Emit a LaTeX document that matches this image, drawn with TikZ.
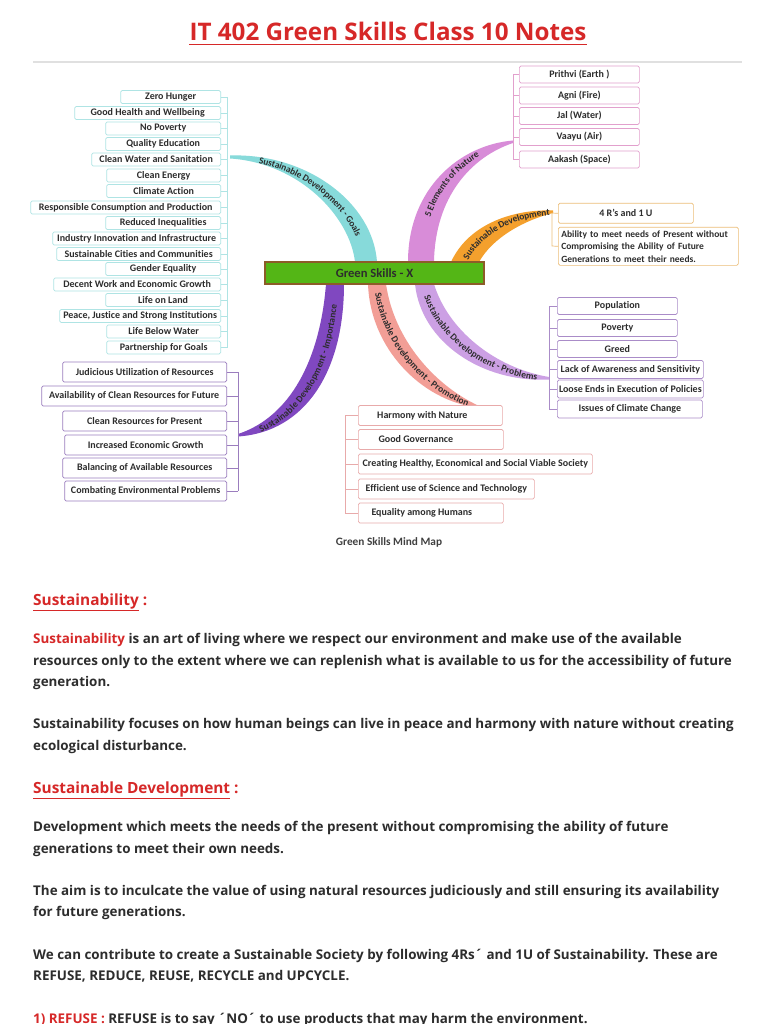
\documentclass[tikz,border=0pt]{standalone}
\usepackage{fontspec}
\setmainfont{Carlito}[Ligatures=NoCommon]
\newfontfamily\titlefont{Open Sans}
\usetikzlibrary{decorations.text}
\definecolor{redt}{RGB}{214,40,40}
\definecolor{bodyc}{RGB}{45,45,45}
\definecolor{goalc}{RGB}{175,228,228}
\definecolor{goalrib}{RGB}{135,218,218}
\definecolor{elemc}{RGB}{226,160,205}
\definecolor{elemrib}{RGB}{216,140,216}
\definecolor{orgc}{RGB}{236,190,120}
\definecolor{orgrib}{RGB}{244,160,45}
\definecolor{probc}{RGB}{170,140,200}
\definecolor{probrib}{RGB}{204,160,228}
\definecolor{promc}{RGB}{232,170,170}
\definecolor{promrib}{RGB}{242,158,150}
\definecolor{impc}{RGB}{155,125,190}
\definecolor{imprib}{RGB}{128,72,192}
\definecolor{centerfill}{RGB}{84,182,22}
\definecolor{centerdraw}{RGB}{140,92,40}
\begin{document}
\begin{tikzpicture}[x=1pt,y=-1pt,
  every node/.style={text=bodyc},
  box/.style={draw, rounded corners=1.5pt, line width=0.7pt, fill=white, inner sep=0pt,
    font=\fontsize{10}{11}\selectfont\bfseries},
  gbox/.style={box, draw=goalc, minimum height=13, anchor=east},
  ebox/.style={box, draw=elemc, minimum height=17, minimum width=120, anchor=west},
  obox/.style={box, draw=orgc, anchor=north west},
  pbox/.style={box, draw=probc, minimum height=17, anchor=west},
  rbox/.style={box, draw=promc, minimum height=20, anchor=west},
  ibox/.style={box, draw=impc, minimum height=20, anchor=east},
  gline/.style={draw=goalc, line width=0.7pt},
  eline/.style={draw=elemc, line width=0.7pt},
  oline/.style={draw=orgc, line width=0.7pt},
  pline/.style={draw=probc, line width=0.7pt},
  rline/.style={draw=promc, line width=0.7pt},
  iline/.style={draw=impc, line width=0.7pt},
  ribtext/.style={decorate, decoration={text along path, text align=center, raise=-3pt,
    text color=bodyc}},
  body/.style={anchor=base west, inner sep=0pt, font=\titlefont\fontsize{13.4}{16}\selectfont\bfseries},
  head/.style={anchor=base west, inner sep=0pt, text=redt, font=\titlefont\fontsize{15.4}{18}\selectfont\bfseries},
]
\useasboundingbox (0,0) rectangle (768,1024);
\clip (0,0) rectangle (768,1024);
\fill[white] (0,0) rectangle (768,1024);

% title
\node[anchor=base, inner sep=0pt, text=redt, font=\titlefont\fontsize{24.2}{26}\selectfont\bfseries] (title) at (388,41) {IT 402 Green Skills Class 10 Notes};
\draw[redt, line width=1.3pt] ([yshift=-3.5pt]title.base west) -- ([yshift=-3.5pt]title.base east);
\coordinate (imgl) at (33,62);
\coordinate (imgr) at (742,62);
\draw[black!12, line width=1.2pt] (imgl) -- (imgr);

% ribbons
\fill[goalrib] (230,155.5) .. controls (307,153) and (373,203) .. (377,262) -- (355,262) .. controls (350,217) and (300,163) .. (230,158.5) -- cycle;
\fill[elemrib] (408,262) .. controls (408,188) and (460,145) .. (513,140.5) -- (513,143) .. controls (471,157) and (435,197) .. (434,262) -- cycle;
\fill[orgrib] (451,262) .. controls (469,223) and (515,209) .. (553,210.5) -- (553,213) .. controls (525,220) and (493,237) .. (479,262) -- cycle;
\fill[probrib] (415,284) .. controls (421,342) and (482,383) .. (549,379.5) -- (549,377) .. controls (495,368) and (448,330) .. (434,284) -- cycle;
\fill[promrib] (368,284) .. controls (370,347) and (420,400) .. (477,407.5) -- (477,405) .. controls (435,385) and (394,340) .. (386,284) -- cycle;
\fill[imprib] (344,284) .. controls (344,372) and (305,432) .. (238,436.5) -- (238,434) .. controls (290,417) and (320,360) .. (326,284) -- cycle;

\path[ribtext, decoration={text={|\fontsize{9.4}{10}\selectfont\bfseries|Sustainable Development - Goals}}] (232,157) .. controls (300,158) and (361,210) .. (366,262);
\path[ribtext, decoration={text={|\fontsize{9.4}{10}\selectfont\bfseries|5 Elements of Nature}}] (421,250) .. controls (425,190) and (465,150) .. (510,142);
\path[ribtext, decoration={text={|\fontsize{9.4}{10}\selectfont\bfseries|Sustainable Development}}] (464,262) .. controls (480,228) and (518,214) .. (553,212);
\path[ribtext, decoration={text={|\fontsize{9.4}{10}\selectfont\bfseries|Sustainable Development - Problems}}] (424,284) .. controls (434,335) and (487,375) .. (549,378);
\path[ribtext, decoration={text={|\fontsize{9.4}{10}\selectfont\bfseries|Sustainable Development - Promotion}}] (377,284) .. controls (382,342) and (427,392) .. (477,406);
\path[ribtext, decoration={text={|\fontsize{9.4}{10}\selectfont\bfseries|Sustainable Development - Importance}}] (240,435) .. controls (300,424) and (333,365) .. (335,284);

% centre
\node[draw=centerdraw, fill=centerfill, line width=1.2pt, minimum width=219, minimum height=22, inner sep=0pt,
  font=\fontsize{12.6}{13}\selectfont\bfseries] (centre) at (374.5,273) {Green Skills - X};

% goals
\node[gbox, minimum width=100] (g1) at (221,97) {Zero Hunger};
\node[gbox, minimum width=146] (g2) at (221,113) {Good Health and Wellbeing};
\node[gbox, minimum width=115] (g3) at (221,128.5) {No Poverty};
\node[gbox, minimum width=115] (g4) at (221,144) {Quality Education};
\node[gbox, minimum width=129] (g5) at (221,159.5) {Clean Water and Sanitation};
\node[gbox, minimum width=114] (g6) at (221,175.5) {Clean Energy};
\node[gbox, minimum width=114] (g7) at (221,191) {Climate Action};
\node[gbox, minimum width=190] (g8) at (221,207.5) {Responsible Consumption and Production};
\node[gbox, minimum width=115] (g9) at (221,223) {Reduced Inequalities};
\node[gbox, minimum width=168] (g10) at (221,238.5) {Industry Innovation and Infrastructure};
\node[gbox, minimum width=164] (g11) at (221,254) {Sustainable Cities and Communities};
\node[gbox, minimum width=115] (g12) at (221,269) {Gender Equality};
\node[gbox, minimum width=167] (g13) at (221,284.5) {Decent Work and Economic Growth};
\node[gbox, minimum width=115] (g14) at (221,300) {Life on Land};
\node[gbox, minimum width=161] (g15) at (221,316) {Peace, Justice and Strong Institutions};
\node[gbox, minimum width=114] (g16) at (221,331.5) {Life Below Water};
\node[gbox, minimum width=114] (g17) at (221,347.5) {Partnership for Goals};
\coordinate (gtop) at (227,97);
\coordinate (gbot) at (227,347.5);
\draw[gline] (gtop) -- (gbot);
\foreach \i in {1,...,17} \draw[gline] (g\i.east) -- (g\i.east -| gtop);

% importance
\node[ibox, minimum width=164] (i1) at (227,372) {Judicious Utilization of Resources};
\node[ibox, minimum width=185] (i2) at (227,396) {Availability of Clean Resources for Future};
\node[ibox, minimum width=164] (i3) at (227,421) {Clean Resources for Present};
\node[ibox, minimum width=162] (i4) at (227,445) {Increased Economic Growth};
\node[ibox, minimum width=164] (i5) at (227,468) {Balancing of Available Resources};
\node[ibox, minimum width=162] (i6) at (227,491) {Combating Environmental Problems};
\coordinate (itop) at (238,372);
\coordinate (ibot) at (238,491);
\draw[iline] (itop) -- (ibot);
\foreach \i in {1,...,6} \draw[iline] (i\i.east) -- (i\i.east -| itop);

% elements
\node[ebox] (e1) at (519,74.5) {Prithvi (Earth )};
\node[ebox] (e2) at (519,95.5) {Agni (Fire)};
\node[ebox] (e3) at (519,116) {Jal (Water)};
\node[ebox] (e4) at (519,137) {Vaayu (Air)};
\node[ebox] (e5) at (519,159.5) {Aakash (Space)};
\coordinate (etop) at (513,74.5);
\coordinate (ebot) at (513,159.5);
\draw[eline] (etop) -- (ebot);
\foreach \i in {1,...,5} \draw[eline] (e\i.west) -- (e\i.west -| etop);

% 4Rs
\node[obox, minimum width=135, minimum height=20] (o1) at (558,203) {4 R’s and 1 U};
\node[obox, minimum height=38, text width=174, inner xsep=3pt, align=left,
  font=\fontsize{9.5}{12.5}\selectfont\bfseries] (o2) at (558,227) {Ability to meet needs of Present without\\Compromising the Ability of Future\\Generations to meet their needs.};
\coordinate (otop) at (552,213);
\coordinate (obot) at (552,246);
\draw[oline] (o1.west) -- (otop) -- (obot) -- (o2.west);

% problems
\node[pbox, minimum width=120] (p1) at (557,306) {Population};
\node[pbox, minimum width=120] (p2) at (557,328) {Poverty};
\node[pbox, minimum width=120] (p3) at (557,349) {Greed};
\node[pbox, minimum width=146, minimum height=18] (p4) at (557,369.5) {Lack of Awareness and Sensitivity};
\node[pbox, minimum width=146, minimum height=18] (p5) at (557,389) {Loose Ends in Execution of Policies};
\node[pbox, minimum width=145, minimum height=18] (p6) at (557,409) {Issues of Climate Change};
\coordinate (ptop) at (549,306);
\coordinate (pbot) at (549,409);
\draw[pline] (ptop) -- (pbot);
\foreach \i in {1,...,6} \draw[pline] (p\i.west) -- (p\i.west -| ptop);

% promotion
\node[rbox, minimum width=144] (r1) at (358,415.5) {Harmony with Nature\hspace*{16pt}};
\node[rbox, minimum width=145] (r2) at (358,439.5) {Good Governance\hspace*{30pt}};
\node[rbox, minimum width=234] (r3) at (358,464) {Creating Healthy, Economical and Social Viable Society};
\node[rbox, minimum width=176] (r4) at (358,489) {Efficient use of Science and Technology};
\node[rbox, minimum width=145] (r5) at (358,513) {Equality among Humans\hspace*{18pt}};
\coordinate (rtop) at (345,415.5);
\coordinate (rbot) at (345,513);
\draw[rline] (rtop) -- (rbot);
\foreach \i in {1,...,5} \draw[rline] (r\i.west) -- (r\i.west -| rtop);

\node[inner sep=0pt, text=black!75, font=\fontsize{11.3}{12}\selectfont\bfseries] (caption) at (389,542) {Green Skills Mind Map};

% body text
\node[head] (h1) at (33,605) {\underline{Sustainability}~:};
\node[body] (l1) at (33,643) {{\color{redt}Sustainability} is an art of living where we respect our environment and make use of the available};
\node[body] (l2) at (33,665) {resources only to the extent where we can replenish what is available to us for the accessibility of future};
\node[body] (l3) at (33,686) {generation.};
\node[body] (l4) at (33,728) {Sustainability focuses on how human beings can live in peace and harmony with nature without creating};
\node[body] (l5) at (33,750) {ecological disturbance.};
\node[head] (h2) at (33,793) {\underline{Sustainable Development}~:};
\node[body] (l6) at (33,831) {Development which meets the needs of the present without compromising the ability of future};
\node[body] (l7) at (33,853) {generations to meet their own needs.};
\node[body] (l8) at (33,895) {The aim is to inculcate the value of using natural resources judiciously and still ensuring its availability};
\node[body] (l9) at (33,916) {for future generations.};
\node[body] (l10) at (33,959) {We can contribute to create a Sustainable Society by following 4Rs´ and 1U of Sustainability. These are};
\node[body] (l11) at (33,980) {REFUSE, REDUCE, REUSE, RECYCLE and UPCYCLE.};
\node[body] (l12) at (33,1023) {{\color{redt}1) REFUSE :} REFUSE is to say ´NO´ to use products that may harm the environment.};
\end{tikzpicture}
\end{document}
